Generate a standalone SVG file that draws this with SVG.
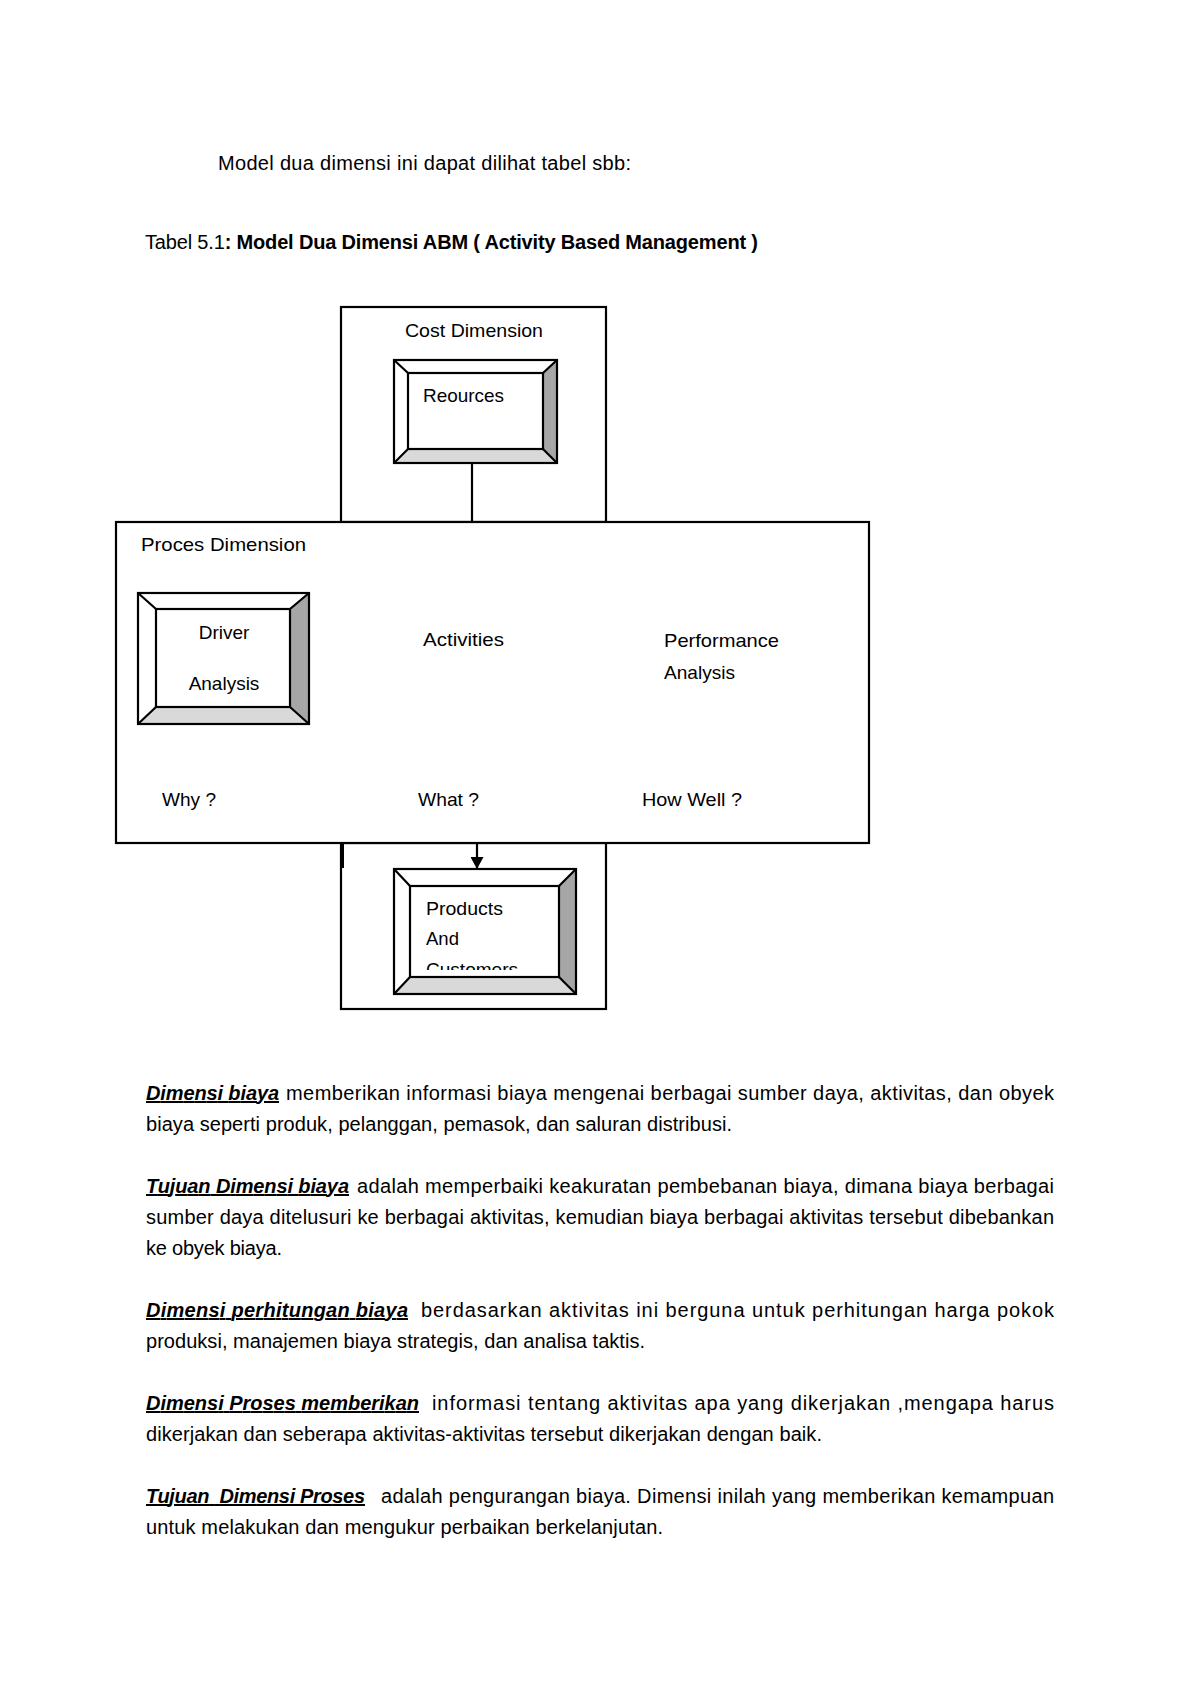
<svg xmlns="http://www.w3.org/2000/svg" width="1200" height="1698" viewBox="0 0 1200 1698">
<defs>
<style>
text{font-family:"Liberation Sans",Arial,sans-serif;fill:#000}
.body{font-size:20px}
.lbl{font-size:19px}
.em{font-weight:bold;font-style:italic;text-decoration:underline}
.b{font-weight:bold}
.box{fill:#fff;stroke:#000;stroke-width:2.2}
.ln{fill:none;stroke:#000;stroke-width:2.2}
.rf{fill:#a6a6a6}
.bf{fill:#d9d9d9}
.conn{stroke:#000;stroke-width:2.2;fill:none}
</style>
<marker id="arr" viewBox="0 0 12 13" refX="12" refY="6.5" markerWidth="12" markerHeight="13" markerUnits="userSpaceOnUse" orient="auto">
<path d="M0,0 L12,6.5 L0,13 z" fill="#000"/>
</marker>
<clipPath id="clipCust"><rect x="410" y="886" width="150" height="84"/></clipPath>
</defs>
<rect x="0" y="0" width="1200" height="1698" fill="#fff"/>

<g id="heading">
<text class="body" x="218" y="170" textLength="413" lengthAdjust="spacing">Model dua dimensi ini dapat dilihat tabel sbb:</text>
<text class="body" x="145" y="249" textLength="613" lengthAdjust="spacing">Tabel 5.1<tspan class="b">: Model Dua Dimensi ABM ( Activity Based Management )</tspan></text>
</g>

<g id="cost-dimension">
<rect class="box" x="341" y="307" width="265" height="215"/>
<text class="lbl" x="405" y="337" textLength="138" lengthAdjust="spacingAndGlyphs">Cost Dimension</text>
</g>

<g id="customer-dimension-frame">
<rect class="box" x="341" y="843" width="265" height="166"/>
<line x1="342" y1="843" x2="342" y2="868" stroke="#000" stroke-width="4"/>
</g>

<g id="process-dimension">
<rect class="box" x="116" y="522" width="753" height="321"/>
<text class="lbl" x="141" y="551" textLength="165" lengthAdjust="spacingAndGlyphs">Proces  Dimension</text>
</g>

<g id="reources">
<polygon class="rf" points="557,360 557,463 543,449 543,373"/>
<polygon class="bf" points="394,463 557,463 543,449 408,449"/>
<rect class="ln" x="394" y="360" width="163" height="103"/>
<rect class="ln" x="408" y="373" width="135" height="76"/>
<path class="ln" d="M394,360 L408,373 M557,360 L543,373 M394,463 L408,449 M557,463 L543,449"/>
<text class="lbl" x="423" y="402" textLength="81" lengthAdjust="spacingAndGlyphs">Reources</text>
</g>

<g id="driver-analysis">
<polygon class="rf" points="309,593 309,724 290,707 290,609"/>
<polygon class="bf" points="138,724 309,724 290,707 156,707"/>
<rect class="ln" x="138" y="593" width="171" height="131"/>
<rect class="ln" x="156" y="609" width="134" height="98"/>
<path class="ln" d="M138,593 L156,609 M309,593 L290,609 M138,724 L156,707 M309,724 L290,707"/>
<text class="lbl" x="224" y="639" text-anchor="middle">Driver</text>
<text class="lbl" x="224" y="690" text-anchor="middle">Analysis</text>
</g>

<g id="activities">
<text class="lbl" x="423" y="646" textLength="81" lengthAdjust="spacingAndGlyphs">Activities</text>
</g>

<g id="performance-analysis">
<text class="lbl" x="664" y="647" textLength="115" lengthAdjust="spacingAndGlyphs">Performance</text>
<text class="lbl" x="664" y="679" textLength="71" lengthAdjust="spacingAndGlyphs">Analysis</text>
</g>

<g id="questions">
<text class="lbl" x="162" y="806" textLength="54" lengthAdjust="spacingAndGlyphs">Why ?</text>
<text class="lbl" x="418" y="806" textLength="61" lengthAdjust="spacingAndGlyphs">What ?</text>
<text class="lbl" x="642" y="806" textLength="100" lengthAdjust="spacingAndGlyphs">How Well ?</text>
</g>

<g id="products-customers">
<polygon class="rf" points="576,869 576,994 559,977 559,886"/>
<polygon class="bf" points="394,994 576,994 559,977 410,977"/>
<rect class="ln" x="394" y="869" width="182" height="125"/>
<rect class="ln" x="410" y="886" width="149" height="91"/>
<path class="ln" d="M394,869 L410,886 M576,869 L559,886 M394,994 L410,977 M576,994 L559,977"/>
<text class="lbl" x="426" y="915" textLength="77" lengthAdjust="spacingAndGlyphs">Products</text>
<text class="lbl" x="426" y="945" textLength="33" lengthAdjust="spacingAndGlyphs">And</text>
<text class="lbl" x="426" y="976" textLength="92" lengthAdjust="spacingAndGlyphs" clip-path="url(#clipCust)">Customers</text>
</g>

<g id="connectors">
<line class="conn" x1="472" y1="463" x2="472" y2="522"/>
<line class="conn" x1="477" y1="843" x2="477" y2="869" marker-end="url(#arr)"/>
</g>

<g id="paragraphs">
<text class="body em" x="146" y="1100" textLength="133" lengthAdjust="spacing">Dimensi biaya</text>
<text class="body" x="286" y="1100" textLength="768" lengthAdjust="spacing">memberikan informasi biaya mengenai berbagai sumber daya, aktivitas, dan obyek</text>
<text class="body" x="146" y="1131" textLength="586" lengthAdjust="spacing">biaya seperti produk, pelanggan, pemasok, dan saluran distribusi.</text>
<text class="body em" x="146" y="1193" textLength="203" lengthAdjust="spacing">Tujuan Dimensi biaya</text>
<text class="body" x="357" y="1193" textLength="697" lengthAdjust="spacing">adalah memperbaiki keakuratan pembebanan biaya, dimana biaya berbagai</text>
<text class="body" x="146" y="1224" textLength="908" lengthAdjust="spacing">sumber daya ditelusuri ke berbagai aktivitas, kemudian biaya berbagai aktivitas tersebut dibebankan</text>
<text class="body" x="146" y="1255" textLength="136" lengthAdjust="spacing">ke obyek biaya.</text>
<text class="body em" x="146" y="1317" textLength="262" lengthAdjust="spacing">Dimensi perhitungan biaya</text>
<text class="body" x="421" y="1317" textLength="633" lengthAdjust="spacing">berdasarkan aktivitas ini berguna untuk perhitungan harga pokok</text>
<text class="body" x="146" y="1348" textLength="499" lengthAdjust="spacing">produksi, manajemen biaya strategis, dan analisa taktis.</text>
<text class="body em" x="146" y="1410" textLength="273" lengthAdjust="spacing">Dimensi Proses memberikan</text>
<text class="body" x="432" y="1410" textLength="622" lengthAdjust="spacing">informasi tentang aktivitas apa yang dikerjakan ,mengapa harus</text>
<text class="body" x="146" y="1441" textLength="676" lengthAdjust="spacing">dikerjakan dan seberapa aktivitas-aktivitas tersebut dikerjakan dengan baik.</text>
<text class="body em" x="146" y="1503" textLength="219" lengthAdjust="spacing" xml:space="preserve">Tujuan  Dimensi Proses</text>
<text class="body" x="381" y="1503" textLength="673" lengthAdjust="spacing">adalah pengurangan biaya. Dimensi inilah yang memberikan kemampuan</text>
<text class="body" x="146" y="1534" textLength="517" lengthAdjust="spacing">untuk melakukan dan mengukur perbaikan berkelanjutan.</text>
</g>
</svg>
